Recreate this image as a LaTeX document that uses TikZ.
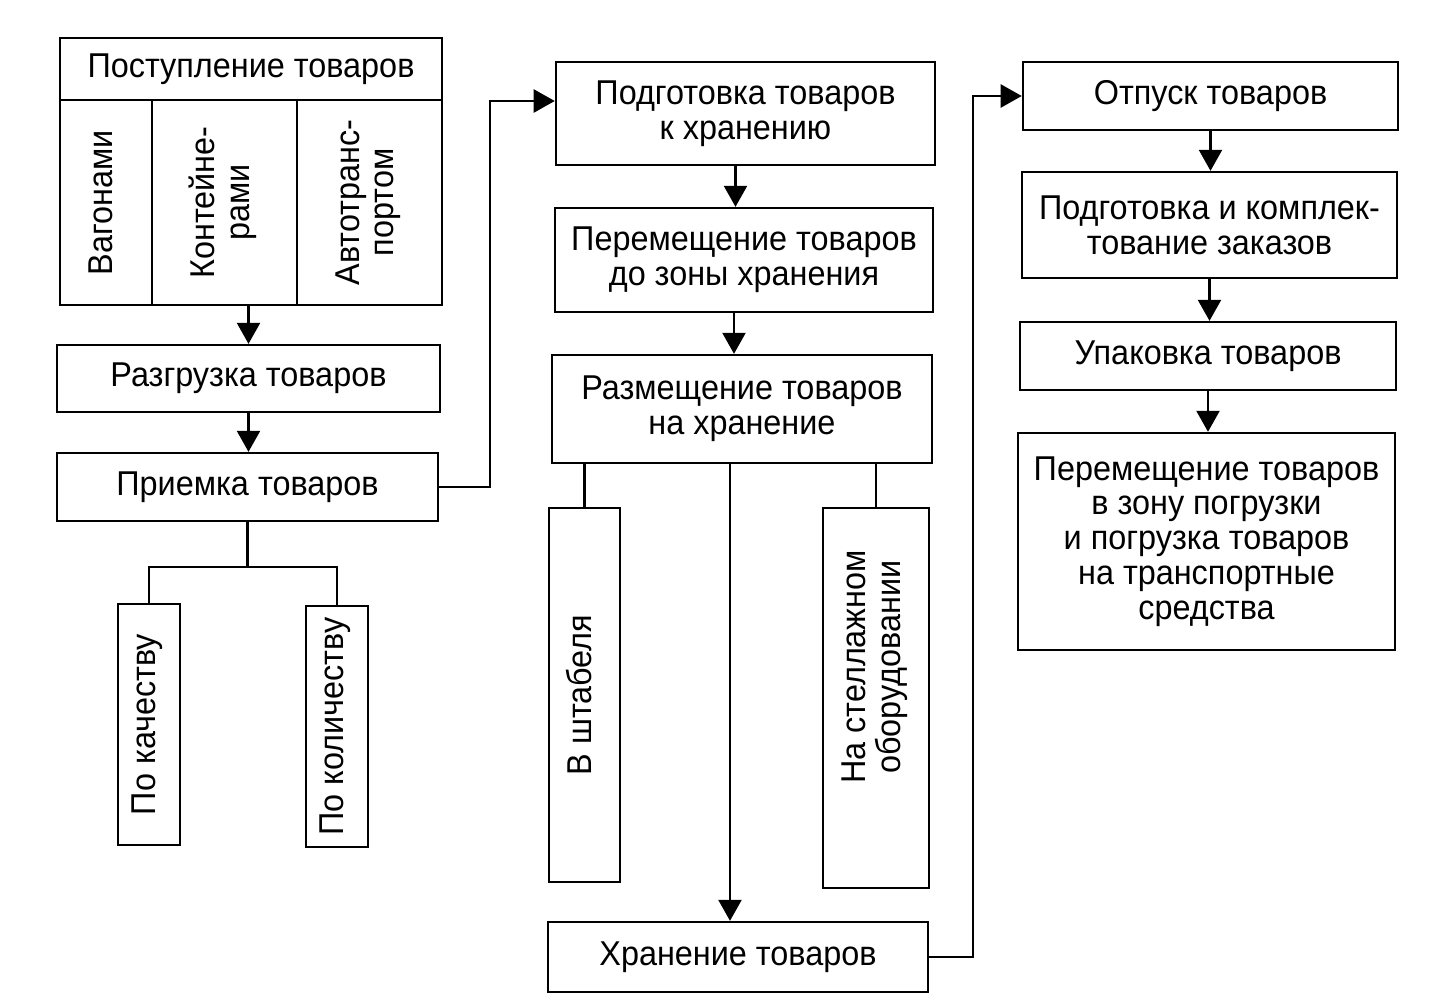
\documentclass[tikz,border=0pt]{standalone}
\usepackage{graphicx}
\usepackage{fontspec}
\setmainfont{Liberation Sans}[FakeStretch=0.94]
\usetikzlibrary{arrows.meta}

\newcommand{\vlab}[2][0pt]{\rotatebox{90}{\hspace*{#1}\begin{tabular}{@{}c@{}}#2\end{tabular}}}

\tikzset{
  box/.style={draw, line width=0.65pt, align=center, inner sep=0pt,
    font=\fontsize{9.8pt}{9.9pt}\selectfont},
  arr/.style={line width=0.65pt, -{Triangle[width=0.23cm,length=0.21cm]}},
  lin/.style={line width=0.65pt}
}

\begin{document}
\begin{tikzpicture}[x=0.01cm,y=-0.01cm]
\useasboundingbox (0,0) rectangle (1433,1003);

\node[box, minimum width=3.82cm, minimum height=0.62cm] (post) at (251,69) {Поступление товаров};
\node[box, minimum width=0.92cm, minimum height=2.05cm] (vag) at (106,202.5) {\vlab{Вагонами}};
\node[box, minimum width=1.45cm, minimum height=2.05cm] (kont) at (224.5,202.5) {\vlab{Контейне-\\рами}};
\node[box, minimum width=1.45cm, minimum height=2.05cm] (avto) at (369.5,202.5) {\vlab{Автотранс-\\портом}};
\node[box, minimum width=3.83cm, minimum height=0.67cm] (razgr) at (248.5,378.5) {Разгрузка товаров};
\node[box, minimum width=3.81cm, minimum height=0.68cm] (priem) at (247.5,487) {Приемка товаров};
\node[box, minimum width=0.62cm, minimum height=2.41cm] (kach) at (149,724.5) {\vlab{По качеству}};
\node[box, minimum width=0.62cm, minimum height=2.41cm] (kol) at (337,726.5) {\vlab{По количеству}};

\node[box, minimum width=3.79cm, minimum height=1.03cm] (podg) at (745.5,113.5) {Подготовка товаров\\к хранению};
\node[box, minimum width=3.78cm, minimum height=1.04cm] (perem) at (744,260) {Перемещение товаров\\до зоны хранения};
\node[box, minimum width=3.80cm, minimum height=1.08cm] (razm) at (742,409) {Размещение товаров\\на хранение};
\node[box, minimum width=0.71cm, minimum height=3.74cm] (shtab) at (584.5,695) {\vlab{В штабеля}};
\node[box, minimum width=1.06cm, minimum height=3.80cm] (stell) at (876,698) {\vlab[0.62cm]{На стеллажном\\оборудовании}};
\node[box, minimum width=3.80cm, minimum height=0.70cm] (hran) at (738,957) {Хранение товаров};

\node[box, minimum width=3.75cm, minimum height=0.68cm] (otp) at (1210.5,96) {Отпуск товаров};
\node[box, minimum width=3.75cm, minimum height=1.06cm] (kompl) at (1209.5,225) {Подготовка и комплек-\\тование заказов};
\node[box, minimum width=3.76cm, minimum height=0.68cm] (upak) at (1208,356) {Упаковка товаров};
\node[box, minimum width=3.77cm, minimum height=2.17cm] (pogr) at (1206.5,541.5) {Перемещение товаров\\в зону погрузки\\и погрузка товаров\\на транспортные\\средства};

\draw[arr] (razgr.north |- kont.south) -- (razgr.north);
\draw[arr] (razgr.south) -- (razgr.south |- priem.north);
\draw[lin] (priem.south) -- ++(0,45) -| (kach.north);
\draw[lin] (priem.south) -- ++(0,45) -| (kol.north);
\draw[arr] (priem.east) -| (490,101) -- (podg.west |- 0,101);

\draw[arr] ([xshift=-0.1cm]podg.south) -- ([xshift=-0.1cm]podg.south |- perem.north);
\draw[arr] ([xshift=-0.1cm]perem.south) -- ([xshift=-0.1cm]perem.south |- razm.north);
\draw[lin] (razm.south -| shtab.north) -- (shtab.north);
\draw[lin] (razm.south -| stell.north) -- (stell.north);
\draw[arr] ([xshift=-0.12cm]razm.south) -- ([xshift=-0.12cm]razm.south |- hran.north);
\draw[arr] (hran.east) -| (973,96) -- (otp.west);

\draw[arr] (otp.south) -- (otp.south |- kompl.north);
\draw[arr] (kompl.south) -- (kompl.south |- upak.north);
\draw[arr] (upak.south) -- (upak.south |- pogr.north);

\end{tikzpicture}
\end{document}
